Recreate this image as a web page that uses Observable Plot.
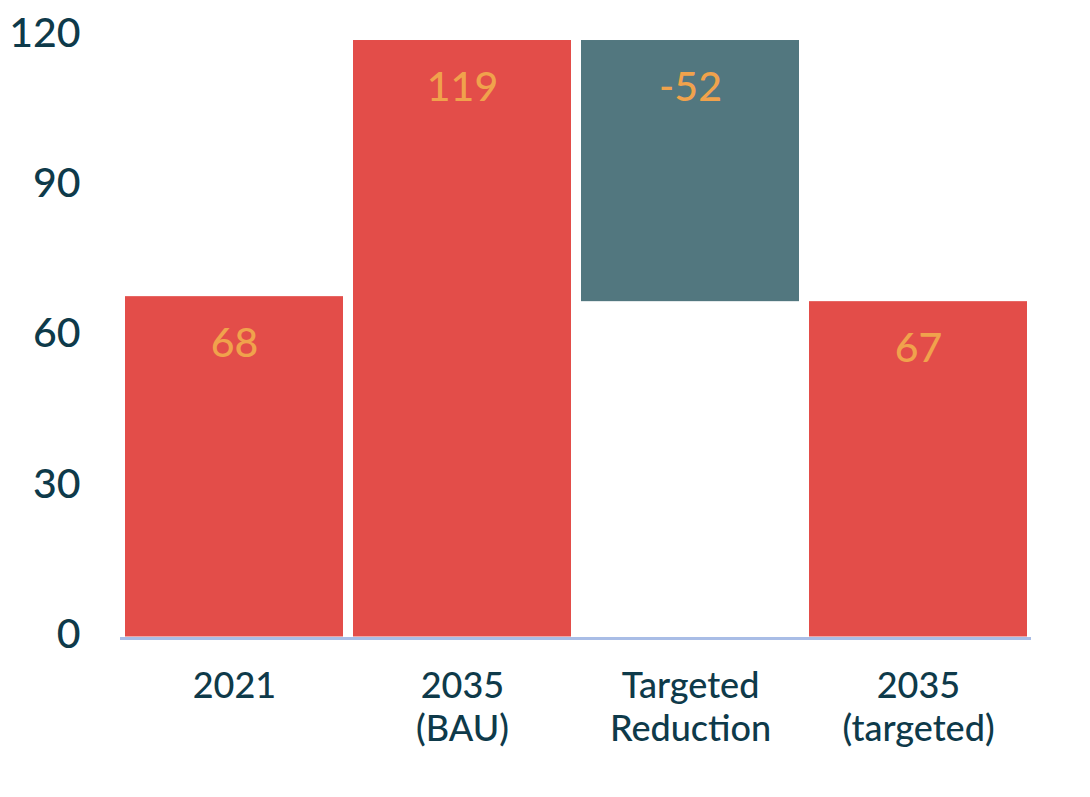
<!DOCTYPE html>
<html>
<head>
<meta charset="utf-8">
<script src="https://cdn.jsdelivr.net/npm/d3@7"></script>
<script src="https://cdn.jsdelivr.net/npm/@observablehq/plot@0.6"></script>
<style>
  html, body { margin: 0; padding: 0; background: #ffffff; }
  #chart svg { display: block; }
</style>
</head>
<body>
<div id="chart"></div>
<script>
const categories = ["2021", "2035 (BAU)", "Targeted Reduction", "2035 (targeted)"];
const tickLabels = ["2021", "2035\n(BAU)", "Targeted\nReduction", "2035\n(targeted)"];
const values = [67.9, 119, -52.1, 66.9];
const kinds = ["total", "total", "change", "total"];
const yTicks = [0, 30, 60, 90, 120];

// build waterfall table
let running = 0;
const rows = categories.map((c, i) => {
  let y1, y2;
  if (kinds[i] === "total") { y1 = 0; y2 = values[i]; running = values[i]; }
  else { y1 = running; y2 = running + values[i]; running = y2; }
  return { category: c, label: tickLabels[i], value: values[i], kind: kinds[i], y1, y2, top: Math.max(y1, y2) };
});

const textColor = "#0e3a4a";
const chart = Plot.plot({
  width: 1090,
  height: 797,
  marginLeft: 120,
  marginRight: 59,
  marginTop: 35,
  marginBottom: 160.5,
  style: { fontFamily: "Lato, 'Noto Sans', sans-serif", color: textColor, background: "#ffffff" },
  x: { domain: categories, paddingInner: 0.046, paddingOuter: 0.018, label: null },
  y: { domain: [0, 120], label: null },
  color: { domain: ["total", "change"], range: ["#e34d49", "#52777f"] },
  marks: [
    Plot.barY(rows, { x: "category", y1: "y1", y2: "y2", fill: "kind" }),
    Plot.ruleY([0], { stroke: "#a9bde6", strokeWidth: 3, dy: 1.5 }),
    Plot.text(rows, {
      x: "category", y: "top", text: d => String(Math.round(d.value)),
      dy: 47, fill: "#f0a24c", fontSize: 41, fontWeight: 500
    }),
    Plot.axisY({
      ticks: yTicks, tickSize: 0, tickPadding: 40, fontSize: 41, fontWeight: 500, fill: textColor, dy: -2, label: null
    }),
    Plot.axisX({
      tickSize: 0, tickPadding: 30, fontSize: 36, fontWeight: 500, fill: textColor, lineHeight: 1.2,
      tickFormat: (d) => tickLabels[categories.indexOf(d)], label: null
    })
  ]
});
document.getElementById("chart").appendChild(chart);
</script>
</body>
</html>
